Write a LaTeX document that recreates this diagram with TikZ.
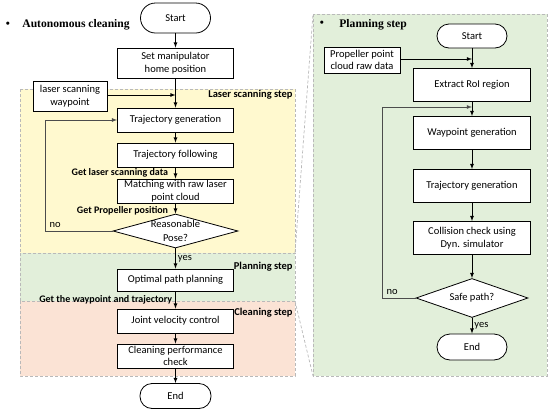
\documentclass[tikz,border=0pt]{standalone}
\usepackage{fontspec}
\setmainfont{Carlito}
\newfontfamily\headfont{Liberation Serif}
\usetikzlibrary{arrows,shapes.geometric}

\definecolor{scanyellow}{HTML}{FFF9CF}
\definecolor{plangreen}{HTML}{E2EFDA}
\definecolor{cleanpeach}{HTML}{FBE3D5}

\begin{document}
\begin{tikzpicture}[
            x = 1pt, y = -1pt, % pixel grid, y down
            > = latex, % arrow head style
            line width = 0.8pt,
            block/.style = {draw, fill=white, rectangle, minimum width=116pt,
              minimum height=24pt, inner sep=1pt, align=center,
              font=\fontsize{10.5}{12.5}\selectfont},
            term/.style = {draw, fill=white, rectangle, rounded corners=12pt,
              minimum width=70pt, minimum height=25pt, inner sep=1pt,
              font=\fontsize{10.5}{12.5}\selectfont},
            decide/.style = {draw, fill=white, diamond, inner sep=0pt},
            inside/.style = {align=center, font=\fontsize{10.5}{14}\selectfont, inner sep=0pt},
            lbl/.style = {font=\bfseries\fontsize{10}{12}\selectfont, inner sep=1pt, xshift=-6pt},
            small/.style = {font=\fontsize{10.5}{12}\selectfont},
            steplabel/.style = {font=\bfseries\fontsize{10.5}{12}\selectfont, inner sep=1pt},
            head/.style = {font=\headfont\bfseries\fontsize{11.6}{13}\selectfont, inner sep=0pt},
            band/.style = {draw=gray!55, dash pattern=on 3pt off 2pt, line width=0.7pt}
        ]

	\useasboundingbox (0,0) rectangle (550,413);

	% step bands
	\filldraw[band, fill=scanyellow] (20,89) rectangle (295,253);
	\filldraw[band, fill=plangreen] (20,253) rectangle (295,301);
	\filldraw[band, fill=cleanpeach] (20,301) rectangle (295,376);
	\filldraw[band, fill=plangreen] (313,14) rectangle (547,376);
	\draw[band] (295,253) -- (313,14);
	\draw[band] (295,301) -- (313,376);

	\node[steplabel, anchor=east] (scanstep) at (294,95) {Laser scanning step};
	\node[steplabel, anchor=east] (planstep) at (294,267) {Planning step};
	\node[steplabel, anchor=east] (cleanstep) at (294,313) {Cleaning step};

	% autonomous cleaning
	\node[head] (bullet) at (8,25) {\textbullet};
	\node[head, anchor=west] (title) at (22,25) {Autonomous cleaning};

	\node[term, minimum height=30pt, rounded corners=15pt] (start) at (175.5,18) {Start};
	\node[block, minimum height=30pt] (home) [below of=start, node distance=45pt] {Set manipulator\\home position};
	\node[block] (traj) [below of=home, node distance=57pt] {Trajectory generation};
	\node[block] (follow) [below of=traj, node distance=35pt] {Trajectory following};
	\node[block] (match) [below of=follow, node distance=36pt] {Matching with raw laser\\point cloud};
	\node[decide, minimum width=125pt, minimum height=34pt,
	      label={[inside]center:Reasonable\\Pose?}] (pose) [below of=match, node distance=40pt] {};
	\node[block, minimum height=22pt] (optimal) [below of=pose, node distance=49pt] {Optimal path planning};
	\node[block] (joint) [below of=optimal, node distance=41pt] {Joint velocity control};
	\node[block] (check) [below of=joint, node distance=35pt] {Cleaning performance\\check};
	\node[term, minimum width=71pt] (end) [below of=check, node distance=40pt] {End};

	\node[block, minimum width=74pt, minimum height=30pt] (waypt) at (70,96) {laser scanning\\waypoint};

	\coordinate (merge) at (175.5,95);
	\coordinate (loopx) at (45,0);

	\draw[->] (start) -- (home);
	\draw[->] (home) -- (traj);
	\draw[->] (waypt.east |- merge) -- (merge);
	\draw[->] (traj) -- (follow);
	\draw[->] (follow) -- node[lbl, left] {Get laser scanning data} (match);
	\draw[->] (match) -- node[lbl, left, yshift=-2pt] {Get Propeller position} (pose);
	\draw[->] (pose) -- node[small, right, inner sep=2pt] {yes} (optimal);
	\draw[->] (optimal) -- node[lbl, left, xshift=4pt] {Get the waypoint and trajectory} (joint);
	\draw[->] (joint) -- (check);
	\draw[->] (check) -- (end);
	\draw[->, black!70] (pose.west) -- node[small, pos=0.85, above, black] {no} (pose.west -| loopx) |- (traj.west);

	% planning step
	\node[head] (bullet2) at (322,24) {\textbullet};
	\node[head, anchor=west] (title2) at (339,25) {Planning step};

	\node[term, minimum height=24pt] (start2) at (472,36) {Start};
	\node[block, minimum width=117pt, minimum height=33pt] (extract) [below of=start2, node distance=49pt] {Extract RoI region};
	\node[block, minimum width=117pt, minimum height=33pt] (waygen) [below of=extract, node distance=48pt] {Waypoint generation};
	\node[block, minimum width=117pt, minimum height=33pt] (trajgen) [below of=waygen, node distance=53pt] {Trajectory generation};
	\node[block, minimum width=117pt, minimum height=33pt] (collide) [below of=trajgen, node distance=52pt] {Collision check using\\Dyn. simulator};
	\node[decide, minimum width=112pt, minimum height=39pt,
	      label={[inside]center:Safe path?}] (safe) [below of=collide, node distance=60pt] {};
	\node[term, minimum height=26pt, rounded corners=13pt] (end2) [below of=safe, node distance=49pt] {End};

	\node[block, minimum width=76pt, minimum height=26pt] (raw) at (362,60) {Propeller point\\cloud raw data};

	\coordinate (merge2) at (472,59);
	\coordinate (merge3) at (472,107);
	\coordinate (loopx2) at (382,0);

	\draw[->] (start2) -- (extract);
	\draw[->] (raw.east |- merge2) -- (merge2);
	\draw[->] (extract) -- (waygen);
	\draw[->] (waygen) -- (trajgen);
	\draw[->] (trajgen) -- (collide);
	\draw[->] (collide) -- (safe);
	\draw[->] (safe) -- node[small, right, inner sep=2pt] {yes} (end2);
	\draw[->, black!70] (safe.west) -- node[small, pos=0.7, above, black] {no} (safe.west -| loopx2) |- (merge3);

\end{tikzpicture}
\end{document}
